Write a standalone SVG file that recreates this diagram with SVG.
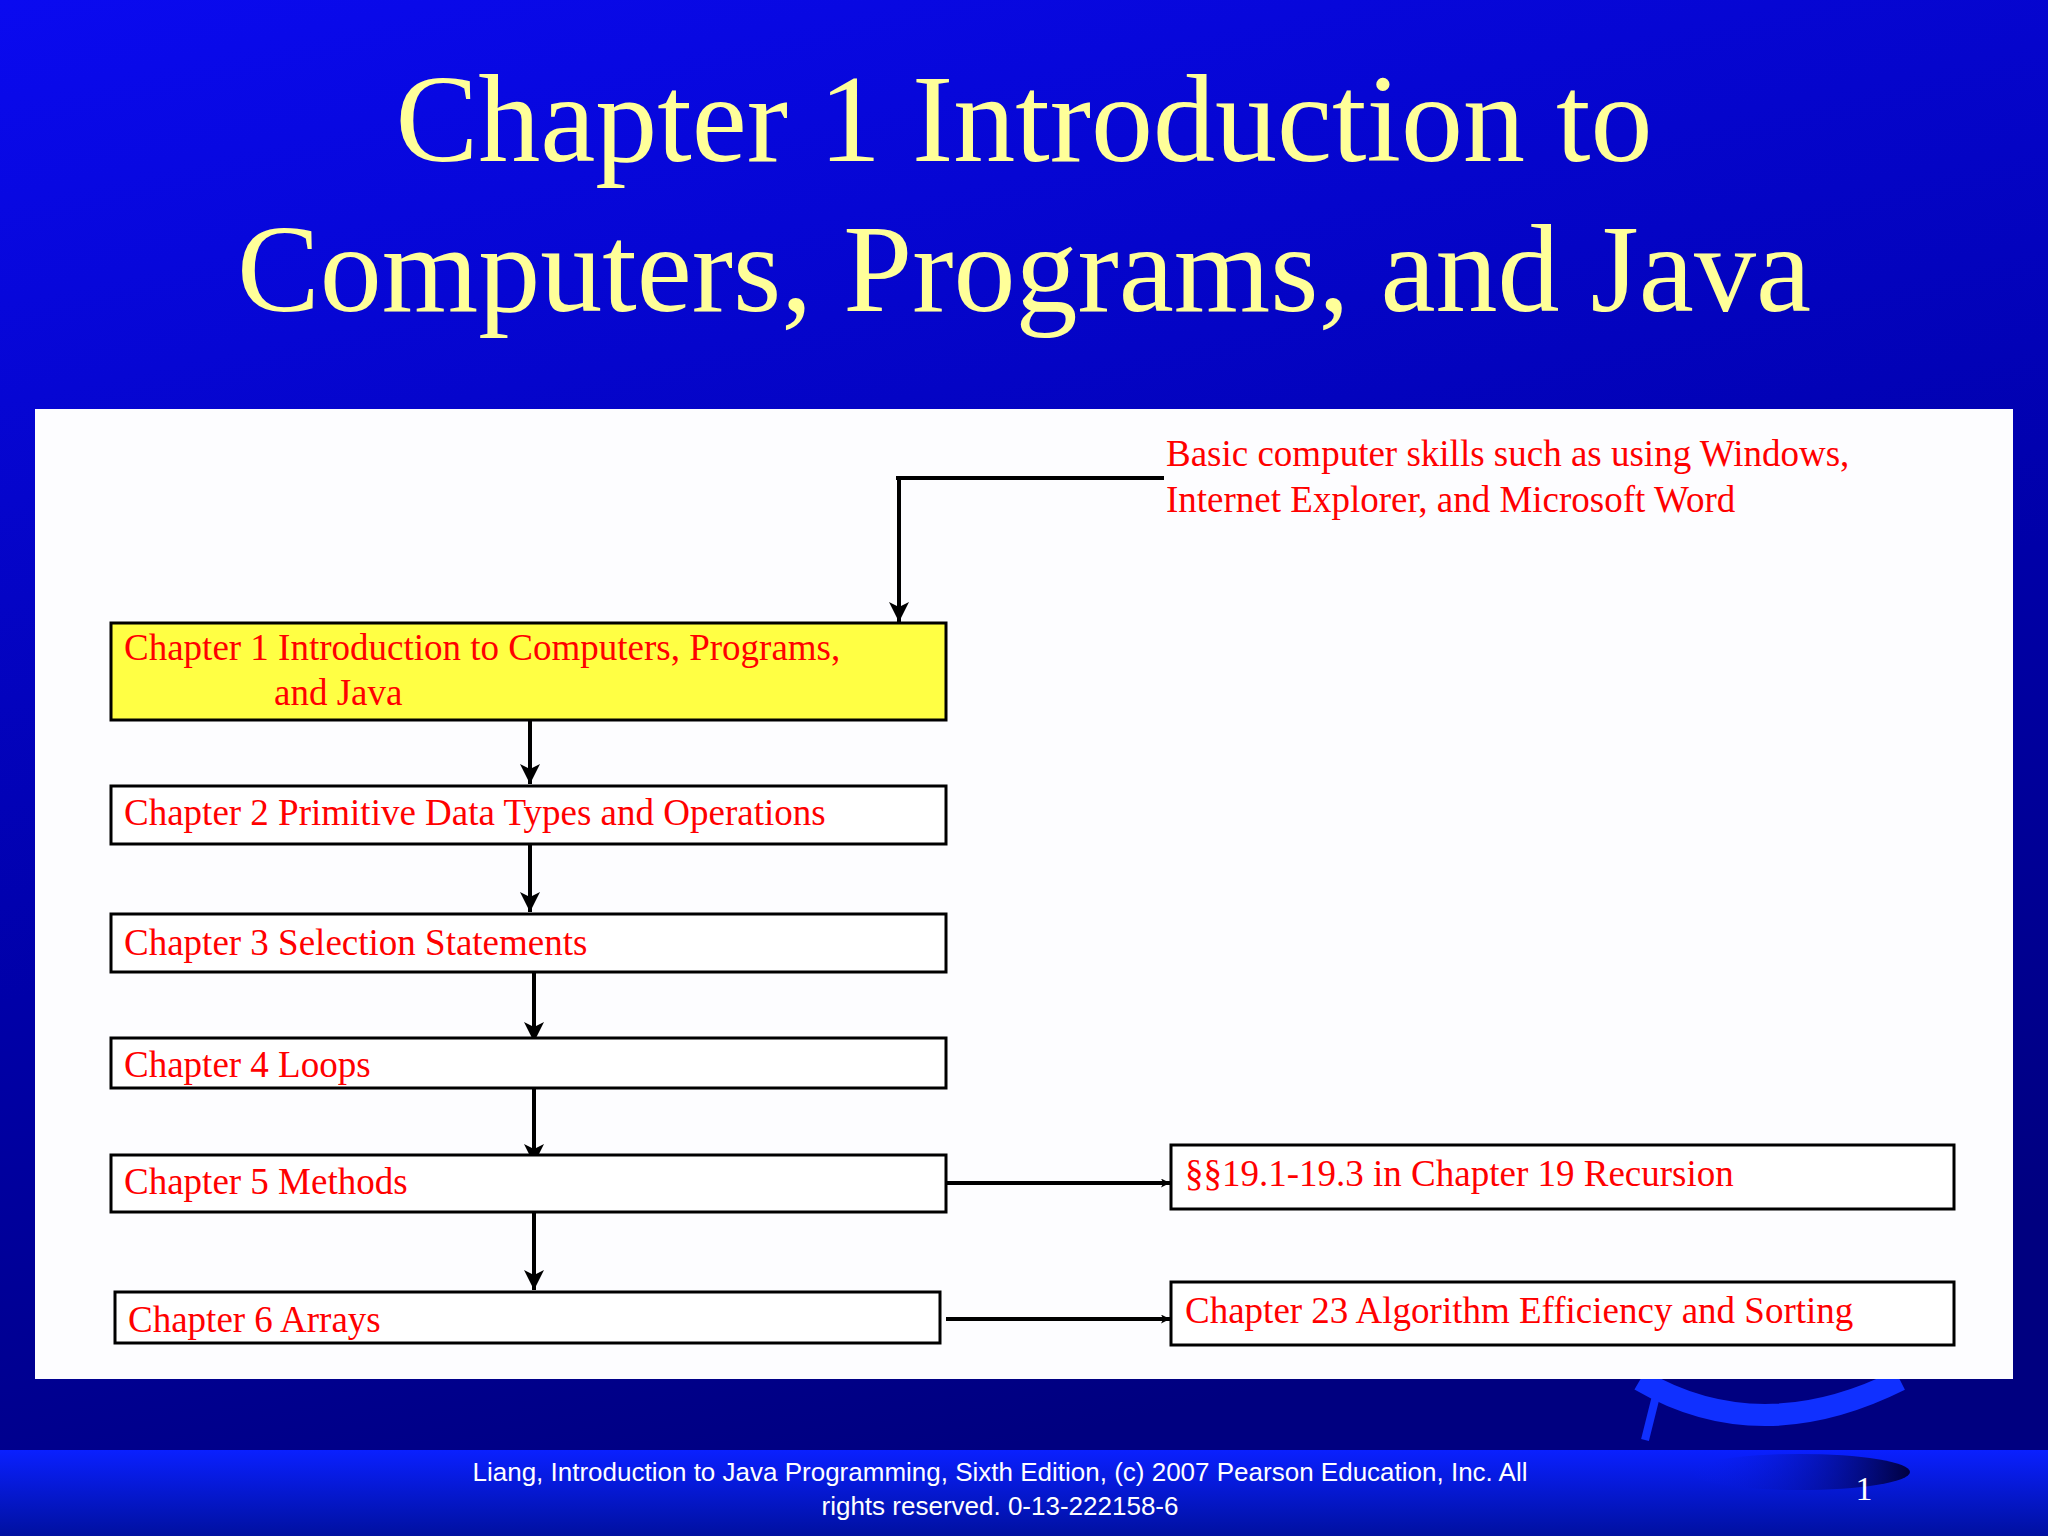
<svg xmlns="http://www.w3.org/2000/svg" width="2048" height="1536" viewBox="0 0 2048 1536">
<defs>
<linearGradient id="bg" x1="0" y1="0" x2="0.3" y2="1">
<stop offset="0" stop-color="#0a0af0"/><stop offset="0.6" stop-color="#0000a8"/><stop offset="1" stop-color="#000080"/>
</linearGradient>
<linearGradient id="ft" x1="0" y1="0" x2="0" y2="1">
<stop offset="0" stop-color="#0a20ff"/><stop offset="1" stop-color="#0010a0"/>
</linearGradient>
<linearGradient id="sw" x1="0" y1="0" x2="1" y2="0">
<stop offset="0" stop-color="#0a20ff" stop-opacity="0"/><stop offset="1" stop-color="#000040"/>
</linearGradient>
<marker id="ah" viewBox="0 0 12 12" refX="12" refY="6" markerWidth="9" markerHeight="9" markerUnits="userSpaceOnUse" orient="auto">
<path d="M0,0 L12,6 L0,12 L3,6 z" fill="#000"/>
</marker>
<marker id="ah2" viewBox="0 0 12 12" refX="12" refY="6" markerWidth="5" markerHeight="5" orient="auto">
<path d="M0,0 L12,6 L0,12 L3,6 z" fill="#000"/>
</marker>
</defs>
<style>
.box{stroke:#000;stroke-width:3;fill:#fff}
.t{font-family:"Liberation Serif","Times New Roman",serif;font-size:37px;fill:#ff0000}
.c{stroke:#000;stroke-width:4;fill:none}
</style>
<rect width="2048" height="1536" fill="url(#bg)"/>
<path d="M1640,1380 Q1760,1450 1900,1380" stroke="#1030ff" stroke-width="22" fill="none"/>
<path d="M1660,1380 L1645,1440" stroke="#1030ff" stroke-width="8"/>
<rect x="0" y="1450" width="2048" height="86" fill="url(#ft)"/>
<ellipse cx="1800" cy="1472" rx="110" ry="18" fill="url(#sw)"/>
<g id="title" font-family="Liberation Serif,'Times New Roman',serif" font-size="124" fill="#ffff99" text-anchor="middle">
<text x="1024" y="161">Chapter 1 Introduction to</text>
<text x="1024" y="311">Computers, Programs, and Java</text>
</g>
<rect x="35" y="409" width="1978" height="970" fill="#fdfdff"/>
<g id="connectors">
<line class="c" x1="896" y1="478" x2="1164" y2="478" stroke-width="3"/>
<path class="c" d="M899,480 L899,622" marker-end="url(#ah2)"/>
<path class="c" d="M530,716 L530,784" marker-end="url(#ah2)"/>
<path class="c" d="M530,844 L530,912" marker-end="url(#ah2)"/>
<path class="c" d="M534,972 L534,1042" marker-end="url(#ah2)"/>
<path class="c" d="M534,1088 L534,1164" marker-end="url(#ah2)"/>
<path class="c" d="M534,1212 L534,1290" marker-end="url(#ah2)"/>
<path class="c" d="M946,1183 L1170,1183" stroke-width="5" marker-end="url(#ah)"/>
<path class="c" d="M946,1319 L1170,1319" stroke-width="5" marker-end="url(#ah)"/>
</g>
<g id="prereq"><text class="t" x="1166" y="466">Basic computer skills such as using Windows,</text><text class="t" x="1166" y="512">Internet Explorer, and Microsoft Word</text></g>
<g id="ch1"><rect class="box" x="111" y="623" width="835" height="97" fill="#ffff44" style="fill:#ffff44"/><text class="t" x="124" y="660">Chapter 1 Introduction to Computers, Programs,</text><text class="t" x="274" y="705">and Java</text></g>
<g id="ch2"><rect class="box" x="111" y="786" width="835" height="58"/><text class="t" x="124" y="825">Chapter 2 Primitive Data Types and Operations</text></g>
<g id="ch3"><rect class="box" x="111" y="914" width="835" height="58"/><text class="t" x="124" y="955">Chapter 3 Selection Statements</text></g>
<g id="ch4"><rect class="box" x="111" y="1038" width="835" height="50"/><text class="t" x="124" y="1077">Chapter 4 Loops</text></g>
<g id="ch5"><rect class="box" x="111" y="1155" width="835" height="57"/><text class="t" x="124" y="1194">Chapter 5 Methods</text></g>
<g id="ch6"><rect class="box" x="115" y="1292" width="825" height="51"/><text class="t" x="128" y="1332">Chapter 6 Arrays</text></g>
<g id="ch19"><rect class="box" x="1171" y="1145" width="783" height="64"/><text class="t" x="1185" y="1186">§§19.1-19.3 in Chapter 19 Recursion</text></g>
<g id="ch23"><rect class="box" x="1171" y="1282" width="783" height="63"/><text class="t" x="1185" y="1323">Chapter 23 Algorithm Efficiency and Sorting</text></g>
<g id="footer" font-family="'Liberation Sans',Arial,sans-serif" font-size="26" fill="#fff" text-anchor="middle">
<text x="1000" y="1481">Liang, Introduction to Java Programming, Sixth Edition, (c) 2007 Pearson Education, Inc. All</text>
<text x="1000" y="1515">rights reserved. 0-13-222158-6</text>
</g>
<text x="1864" y="1500" font-family="'Liberation Serif',serif" font-size="34" fill="#fff" text-anchor="middle">1</text>
</svg>
